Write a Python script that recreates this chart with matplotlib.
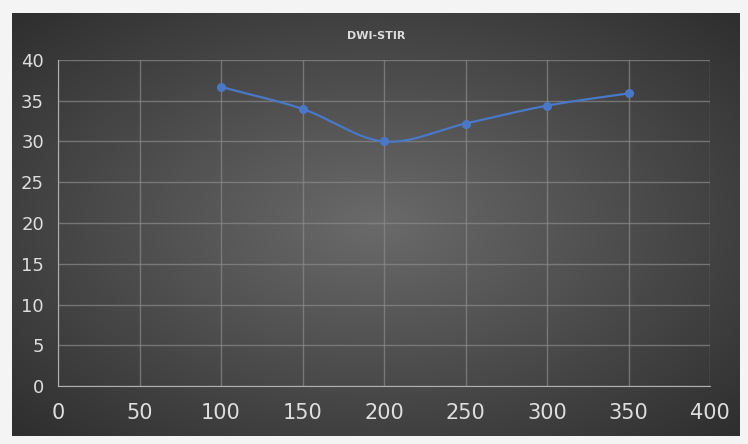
import numpy as np
import matplotlib
matplotlib.use("Agg")
import matplotlib.pyplot as plt

title = "DWI-STIR"
x_vals = [100, 150, 200, 250, 300, 350]
y_vals = [36.7, 34.0, 30.0, 32.2, 34.4, 35.9]
x_ticks = [0, 50, 100, 150, 200, 250, 300, 350, 400]
y_ticks = [0, 5, 10, 15, 20, 25, 30, 35, 40]

W, H = 748, 444
fig = plt.figure(figsize=(W/100, H/100), dpi=100)
fig.patch.set_facecolor("#f4f4f4")

bg = fig.add_axes([12/W, 1-436/H, 728/W, 423/H])
yy, xx = np.mgrid[-1:1:300j, -1:1:500j]
r = np.sqrt(xx**2 + yy**2) / np.sqrt(2)
bg.imshow(r, cmap=matplotlib.colors.LinearSegmentedColormap.from_list("g", ["#6a6a6a", "#2e2e2e"]),
          extent=[0, 1, 0, 1], aspect="auto", vmin=0, vmax=1)
bg.set_axis_off()

L, R, T, B = 58, 710, 60, 386
ax = fig.add_axes([L/W, 1-B/H, (R-L)/W, (B-T)/H])
ax.patch.set_alpha(0)
ax.set_xlim(0, 400)
ax.set_ylim(0, 40)
ax.set_xticks(x_ticks)
ax.set_yticks(y_ticks)
ax.grid(True, color="#8a8a8a", linewidth=1, alpha=0.7)
for s in ["top", "right"]:
    ax.spines[s].set_visible(False)
for s in ["left", "bottom"]:
    ax.spines[s].set_color("#b0b0b0")
ax.tick_params(axis="y", length=0, colors="#dedede", labelsize=13, pad=10)
ax.tick_params(axis="x", length=0, colors="#dedede", labelsize=15, pad=12)

px = np.array(x_vals, float); py = np.array(y_vals, float)
P = np.column_stack([px, py])
Pe = np.vstack([2*P[0]-P[1], P, 2*P[-1]-P[-2]])
cx, cy = [], []
for i in range(1, len(Pe)-2):
    p0, p1, p2, p3 = Pe[i-1], Pe[i], Pe[i+1], Pe[i+2]
    t = np.linspace(0, 1, 30)[:, None]
    c = 0.5*((2*p1) + (-p0+p2)*t + (2*p0-5*p1+4*p2-p3)*t**2 + (-p0+3*p1-3*p2+p3)*t**3)
    cx.extend(c[:, 0]); cy.extend(c[:, 1])
ax.plot(cx, cy, color="#4a78c8", linewidth=1.6, zorder=3)
ax.plot(px, py, "o", color="#4a78c8", markersize=5.5, zorder=4)

fig.text((12+740)/2/W, 1-36/H, title, color="#dcdcdc", fontsize=8, fontweight="bold",
         ha="center", va="center")

fig.savefig("out.png", dpi=100, facecolor=fig.get_facecolor())
